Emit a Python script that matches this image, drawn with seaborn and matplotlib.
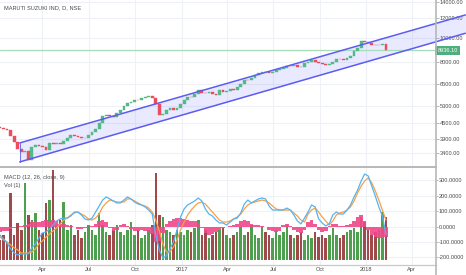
import numpy as np
import pandas as pd
import matplotlib
matplotlib.use("Agg")
import matplotlib.pyplot as plt
import matplotlib.dates as mdates
from matplotlib.lines import Line2D
import seaborn as sns

sns.set_style("white")
plt.rcParams['font.family'] = ['Liberation Sans', 'DejaVu Sans']

# ---------------- data (weekly readings) ----------------
weeks = pd.date_range("2016-01-08", periods=110, freq="7D")

close = [4313, 4272, 4232, 4000, 3783, 3544, 3446, 3480, 3200, 3611,
         3679, 3645, 3611, 3511, 3748, 3700, 3760, 3730, 3820, 3928,
         4039, 4000, 3964, 3928, 3940, 4039, 4154, 4272, 4518, 4824,
         4869, 4824, 4779, 4961, 5102, 5296, 5447, 5498, 5602, 5580,
         5707, 5761, 5815, 5707, 5397, 4869, 4915, 5102, 5198, 5102,
         5198, 5397, 5602, 5761, 5740, 5925, 6151, 5981, 5960, 6037,
         5925, 5870, 6151, 6037, 6094, 6210, 6151, 6327, 6506, 6753,
         6730, 6879, 7077, 7210, 7278, 7250, 7210, 7278, 7415, 7485,
         7555, 7698, 7680, 7770, 7627, 7610, 7916, 7990, 8141, 7990,
         7916, 7843, 7770, 7843, 7990, 8218, 8200, 8141, 8295, 8451,
         8856, 9108, 9724, 9633, 9544, 9367, 9340, 9390, 9455, 8936.10]
first_open = 4350

volume_k = [400, 500, 360, 1340, 500, 740, 600, 1540, 900, 800,
            940, 600, 540, 1140, 1200, 1800, 700, 800, 1160, 600,
            700, 500, 600, 440, 560, 700, 600, 500, 940, 700,
            560, 500, 600, 700, 560, 500, 600, 760, 500, 600,
            440, 500, 600, 700, 1740, 900, 860, 600, 560, 500,
            600, 560, 500, 600, 560, 640, 800, 500, 600, 440,
            500, 560, 600, 640, 500, 440, 500, 560, 660, 500,
            560, 700, 500, 440, 660, 560, 500, 440, 600, 500,
            560, 700, 500, 440, 500, 560, 400, 500, 440, 560,
            460, 500, 440, 500, 640, 500, 440, 500, 560, 600,
            640, 560, 860, 760, 600, 500, 560, 600, 960, 860]

macd = [-54, -80, -106, -145, -171, -184, -177, -177, -177, -138,
        -112, -73, -41, -34, -15, 11, 37, 50, 56, 56,
        69, 95, 95, 76, 50, 43, 56, 95, 134, 173,
        193, 180, 167, 154, 154, 173, 193, 180, 160, 147,
        141, 128, 108, 82, -54, -151, -203, -190, -145, -99,
        -21, 63, 115, 141, 154, 167, 186, 167, 115, 82,
        69, 43, 24, 24, 11, 30, 50, 56, 89, 147,
        173, 154, 167, 180, 186, 180, 134, 108, 108, 108,
        108, 121, 108, 76, 37, 18, 56, 95, 141, 128,
        50, 24, 5, 18, 76, 95, 82, 82, 108, 141,
        193, 238, 297, 342, 329, 264, 199, 128, 69, -50]

signal = [-67, -86, -99, -119, -138, -151, -171, -171, -171, -164,
          -145, -112, -93, -67, -47, -28, -8, 18, 43, 56,
          76, 89, 95, 82, 69, 50, 43, 56, 82, 128,
          154, 173, 167, 160, 160, 160, 180, 180, 167, 154,
          141, 134, 121, 95, 43, -28, -112, -164, -164, -132,
          -86, -21, 30, 76, 108, 134, 154, 160, 147, 121,
          95, 69, 43, 30, 30, 37, 50, 63, 82, 115,
          141, 154, 160, 167, 173, 167, 154, 134, 115, 108,
          108, 108, 108, 89, 69, 43, 30, 82, 108, 121,
          95, 63, 37, 11, 37, 76, 89, 95, 108, 128,
          167, 219, 264, 297, 316, 284, 232, 173, 108, 43]

hist = [-32, -30, -25, -15, -8, -5, 3, 8, 15, 30,
        32, 30, 35, 43, 40, 43, 35, 20, 15, 12,
        5, -5, -12, -15, -10, -5, 5, 20, 35, 43,
        30, -10, -30, -20, 10, 20, 5, -15, -25, -25,
        -20, -25, -30, -50, -97, -90, -40, 15, 40, 50,
        55, 55, 50, 45, 40, 35, 25, -10, -40, -54,
        -50, -35, -20, -10, -5, 5, 10, 20, 35, 43,
        40, 20, 10, 8, 5, -5, -20, -30, -32, -25,
        10, 15, 5, -20, -35, -40, -20, 30, 43, 20,
        -20, -32, -25, 5, 20, 15, 5, 3, 8, 15,
        40, 65, 75, 40, -20, -55, -65, -75, -72, -65]

price_ticks = [3400, 3900, 4500, 5300, 6500, 8000, 10000, 12000, 14000]
macd_ticks = [-200, -100, 0, 100, 200, 300]
last_price = 8936.10

channel_dates = pd.to_datetime(["2016-02-16", "2018-07-16"])
channel_upper = [3750, 12400]
channel_lower = [3140, 10450]

month_ticks = pd.to_datetime(["2016-04-01", "2016-07-01", "2016-10-01", "2017-01-01",
                              "2017-04-01", "2017-07-01", "2017-10-01", "2018-01-01",
                              "2018-04-01"])
month_labels = ["Apr", "Jul", "Oct", "2017", "Apr", "Jul", "Oct", "2018", "Apr"]

# ---------------- styling ----------------
UP, DOWN = "#53b987", "#eb4d5c"
VUP, VDOWN = "#2f8f2f", "#8e2b2b"
GRID = "#eef1f5"
TXT = "#4a4a4a"
FS = 4.1

W, H = 466, 275
fig = plt.figure(figsize=(W / 100, H / 100), dpi=100)
ax = fig.add_axes([0, 1 - 167 / H, 436 / W, 167 / H])
ax2 = fig.add_axes([0, 10 / H, 436 / W, 97 / H], sharex=ax)
axv = ax2.twinx()

xmin, xmax = pd.Timestamp("2016-01-08"), pd.Timestamp("2018-05-19")

# ---------------- price pane ----------------
c = np.array(close, dtype=float)
o = np.concatenate([[first_open], c[:-1]])
up = c >= o
colors = np.where(up, UP, DOWN)
lo = np.minimum(o, c)
hi = np.maximum(o, c)
ax.bar(weeks, hi - lo, bottom=lo, width=5.5, color=colors, edgecolor=colors,
       linewidth=0.3, zorder=3)
ax.set_yscale("log")
ax.set_ylim(2995, 14263)
ax.set_xlim(xmin, xmax)

ax.yaxis.set_minor_locator(matplotlib.ticker.NullLocator())
ax.set_yticks(price_ticks)
ax.set_yticklabels([f"{t:.2f}" for t in price_ticks])
ax.yaxis.tick_right()
ax.tick_params(axis="y", length=1.8, width=0.5, color="#999999", labelsize=FS,
               labelcolor=TXT, pad=0.8)
ax.tick_params(axis="x", length=0, labelbottom=False)
for t in price_ticks:
    ax.axhline(t, color=GRID, lw=0.8, zorder=0)
for d in month_ticks:
    ax.axvline(d, color=GRID, lw=0.8, zorder=0)

# channel drawn past the axis edge, as in the reference
ax.fill_between(channel_dates, channel_lower, channel_upper, color="#9b9bff",
                alpha=0.22, lw=0, zorder=1, clip_on=False)
ax.plot(channel_dates, channel_upper, color="#5c5cf2", lw=1.1, zorder=4, clip_on=False)
ax.plot(channel_dates, channel_lower, color="#5c5cf2", lw=1.1, zorder=4, clip_on=False)
ax.plot([channel_dates[0], channel_dates[0]], [channel_lower[0], channel_upper[0]],
        color="#5c5cf2", lw=0.6, zorder=4)

ax.axhline(last_price, color="#a8dcb8", lw=0.9, zorder=2)
ax.text(1.003, last_price, f"{last_price:.2f}", transform=ax.get_yaxis_transform(),
        ha="left", va="center", color="white", fontsize=FS, clip_on=False, zorder=10,
        bbox=dict(boxstyle="square,pad=0.35", fc="#4caf7d", ec="none"))

for s in ["top", "left", "right"]:
    ax.spines[s].set_visible(False)
ax.spines["bottom"].set_color("#b8b8b8")
ax.spines["bottom"].set_linewidth(1.4)

# ---------------- lower pane ----------------
vcolors = np.where(up, VUP, VDOWN)
axv.bar(weeks, volume_k, width=5.0, color=vcolors, alpha=0.85, lw=0, zorder=2)
axv.set_ylim(-100, 1840)
axv.set_yticks([])
ax2.set_zorder(axv.get_zorder() + 1)
ax2.patch.set_visible(False)
ymin2, ymax2 = -249, 381
for t in macd_ticks:
    f = (t - ymin2) / (ymax2 - ymin2)
    axv.plot([0, 1], [f, f], transform=axv.transAxes, color=GRID, lw=0.8, zorder=0)
for d in month_ticks:
    axv.axvline(d, color=GRID, lw=0.8, zorder=0)

hcol = "#f0478a"
ax2.bar(weeks, hist, width=7.0, color=hcol, alpha=0.9, lw=0, zorder=3)
df = pd.DataFrame({"date": weeks, "macd": macd, "signal": signal})
sns.lineplot(data=df, x="date", y="macd", ax=ax2, color="#55b3f3", lw=0.9, zorder=5)
sns.lineplot(data=df, x="date", y="signal", ax=ax2, color="#f7a048", lw=0.9, zorder=4)
ax2.set_ylim(ymin2, ymax2)
ax2.set_xlim(xmin, xmax)
ax2.set_xlabel("")
ax2.set_ylabel("")
ax2.set_yticks(macd_ticks)
ax2.set_yticklabels([f"{t:.4f}" for t in macd_ticks])
ax2.yaxis.tick_right()
ax2.tick_params(axis="y", length=1.5, width=0.5, color="#999999", labelsize=FS,
                labelcolor=TXT, pad=0.6)
ax2.set_xticks(month_ticks)
ax2.set_xticklabels(month_labels)
ax2.tick_params(axis="x", length=0, labelsize=FS, labelcolor=TXT, pad=1.5)
for a in (ax2, axv):
    for s in ["top", "left", "right"]:
        a.spines[s].set_visible(False)
    a.spines["bottom"].set_color("#c8c8c8")
    a.spines["bottom"].set_linewidth(0.8)

# right price-scale border
fig.add_artist(Line2D([435.5 / W, 435.5 / W], [0, 1], color="#b8b8b8", lw=1.2))

# ---------------- texts ----------------
fig.text(4 / W, 1 - 8 / H, "MARUTI SUZUKI IND, D, NSE", fontsize=FS, color=TXT,
         va="center", ha="left")
fig.text(4 / W, 1 - 177 / H, "MACD (12, 26, close, 9)", fontsize=FS, color=TXT,
         va="center", ha="left")
fig.text(4 / W, 1 - 185 / H, "Vol (1)", fontsize=FS, color=TXT, va="center", ha="left")

fig.savefig("out.png", dpi=100)
